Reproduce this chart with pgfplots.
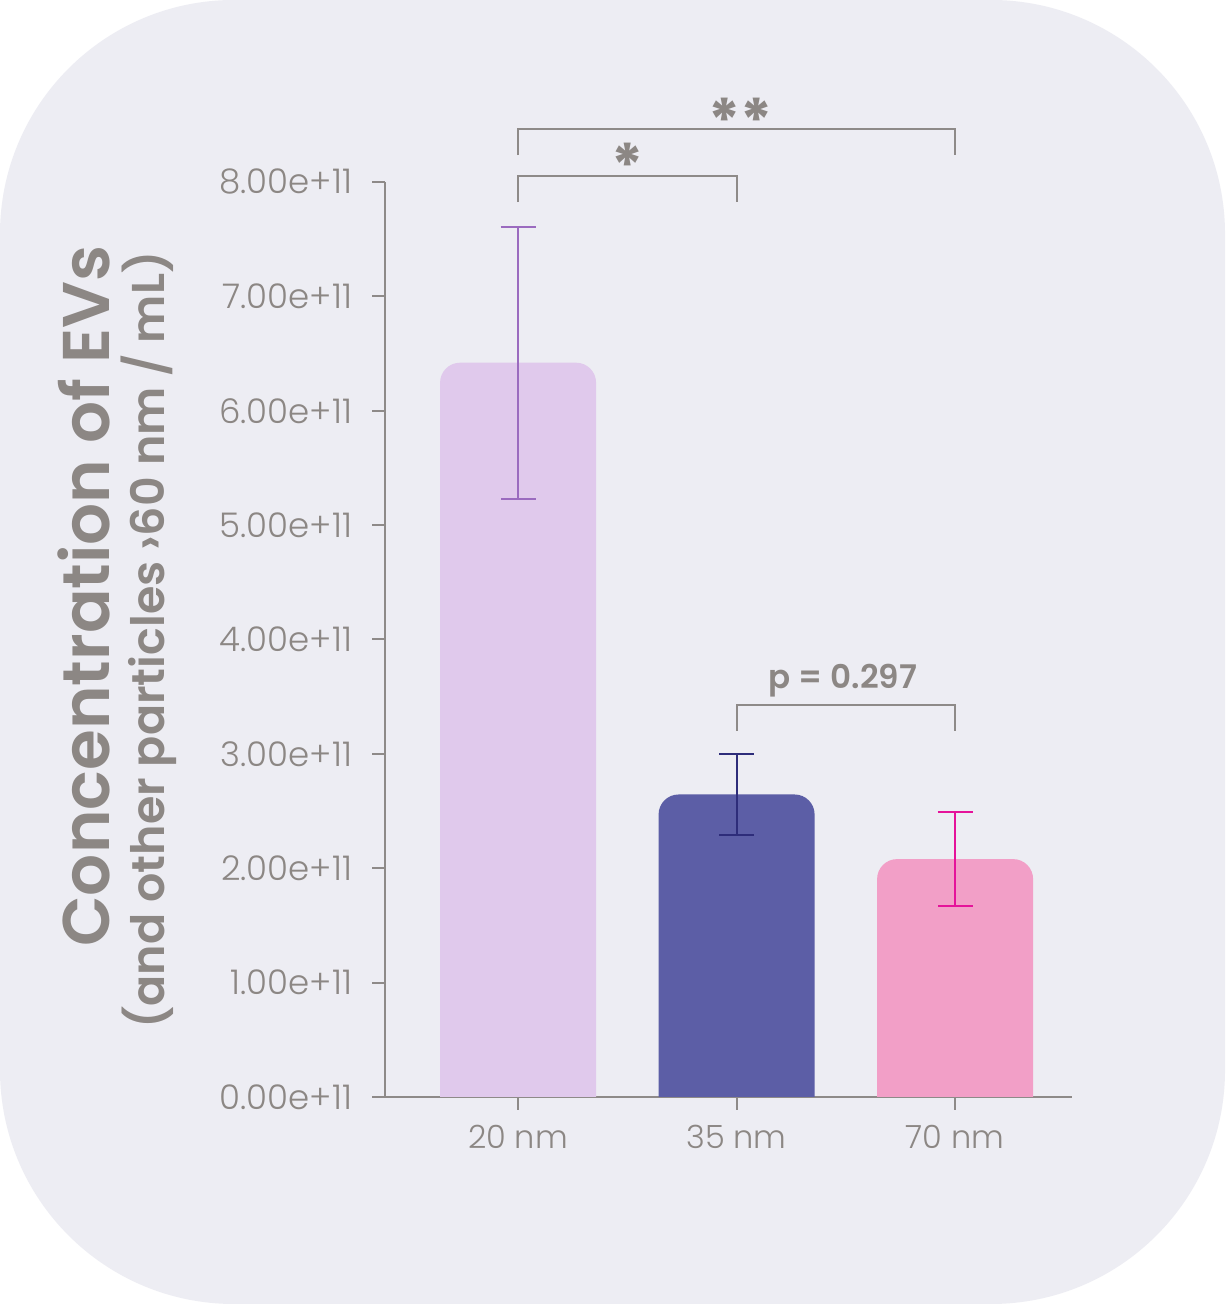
\documentclass[border=0pt]{standalone}
\usepackage{fontspec}
\setmainfont{Poppins}
\IfFontExistsTF{Poppins Light}{\newfontfamily\lightfont{Poppins Light}}{\newfontfamily\lightfont{Poppins}}
\IfFontExistsTF{Poppins SemiBold}{\newfontfamily\semifont{Poppins SemiBold}}{\newfontfamily\semifont{Poppins}\def\semifont{\bfseries}}
\usepackage{pgfplots}
\pgfplotsset{compat=1.18}
\definecolor{bgc}{HTML}{EDEDF3}
\definecolor{axiscol}{HTML}{8E8A88}
\definecolor{textcol}{HTML}{8C8784}
\definecolor{barA}{HTML}{E0C9EC}
\definecolor{barB}{HTML}{5C5EA6}
\definecolor{barC}{HTML}{F29FC7}
\definecolor{errA}{HTML}{9B6BBF}
\definecolor{errB}{HTML}{2E2D7A}
\definecolor{errC}{HTML}{E5139A}
\begin{document}
\begin{tikzpicture}[x=0.5pt,y=0.5pt]
\fill[white] (0,0) rectangle (1225,1304);
\fill[bgc, rounded corners=117pt] (0,0) rectangle (1225,1304);
\begin{axis}[
  at={(192.5pt,103.5pt)}, anchor=south west,
  scale only axis, width=343.5pt, height=457.5pt,
  xmin=-0.609, xmax=2.535, ymin=0, ymax=8,
  clip=true, clip mode=individual,
  axis x line*=bottom, axis y line*=left,
  axis line style={axiscol, line width=1pt},
  tick style={axiscol, line width=1pt},
  major tick length=6.5pt, tick align=outside,
  xtick={0,1,2}, xticklabels={20 nm,35 nm,70 nm},
  ytick={0,1,2,3,4,5,6,7,8},
  yticklabels={0.00e+11,1.00e+11,2.00e+11,3.00e+11,4.00e+11,5.00e+11,6.00e+11,7.00e+11,8.00e+11},
  yticklabel style={font=\lightfont\fontsize{17}{18}\selectfont, text=textcol, xshift=-6.5pt},
  xticklabel style={font=\lightfont\fontsize{16}{17}\selectfont, text=textcol, yshift=-4pt},
]
% bars (rounded tops; bottom corners fall below the axis and are clipped)
\addplot[fill=barA, draw=none, rounded corners=10pt]
  coordinates {(-0.357,-0.4) (-0.357,6.42) (0.357,6.42) (0.357,-0.4)} -- cycle;
\addplot[fill=barB, draw=none, rounded corners=10pt]
  coordinates {(0.643,-0.4) (0.643,2.645) (1.357,2.645) (1.357,-0.4)} -- cycle;
\addplot[fill=barC, draw=none, rounded corners=10pt]
  coordinates {(1.643,-0.4) (1.643,2.08) (2.357,2.08) (2.357,-0.4)} -- cycle;
% error bars
\addplot[draw=none, mark=none, error bars/.cd, y dir=both, y explicit,
  error bar style={errA, line width=1pt},
  error mark options={rotate=90, mark size=8.75pt, line width=1pt, errA}]
  coordinates {(0,6.42) +- (0,1.19)};
\addplot[draw=none, mark=none, error bars/.cd, y dir=both, y explicit,
  error bar style={errB, line width=1pt},
  error mark options={rotate=90, mark size=8.75pt, line width=1pt, errB}]
  coordinates {(1,2.645) +- (0,0.35)};
\addplot[draw=none, mark=none, error bars/.cd, y dir=both, y explicit,
  error bar style={errC, line width=1pt},
  error mark options={rotate=90, mark size=8.75pt, line width=1pt, errC}]
  coordinates {(2,2.08) +- (0,0.41)};
% significance brackets
\draw[axiscol, line width=1pt] (axis cs:0,7.825) |- (axis cs:1,8.05) -- (axis cs:1,7.825);
\draw[axiscol, line width=1pt] (axis cs:0,8.235) |- (axis cs:2,8.46) -- (axis cs:2,8.235);
\draw[axiscol, line width=1pt] (axis cs:1,3.20) |- (axis cs:2,3.427) -- (axis cs:2,3.20);
\node[text=textcol, font=\bfseries\fontsize{30}{30}\selectfont, anchor=center] at (axis cs:0.499,8.15) {*};
\node[text=textcol, font=\bfseries\fontsize{30}{30}\selectfont, anchor=center] at (axis cs:1.016,8.54) {**};
\node[text=textcol, font=\semifont\fontsize{16.3}{17}\selectfont, anchor=center] at (axis cs:1.487,3.64) {p = 0.297};
\end{axis}
\node[rotate=90, text=textcol, font=\semifont\fontsize{33}{34}\selectfont] at (84,708) {Concentration of EVs};
\node[rotate=90, text=textcol, font=\semifont\fontsize{23}{24}\selectfont] at (149,664) {(and other particles ›60 nm / mL)};
\end{tikzpicture}
\end{document}
